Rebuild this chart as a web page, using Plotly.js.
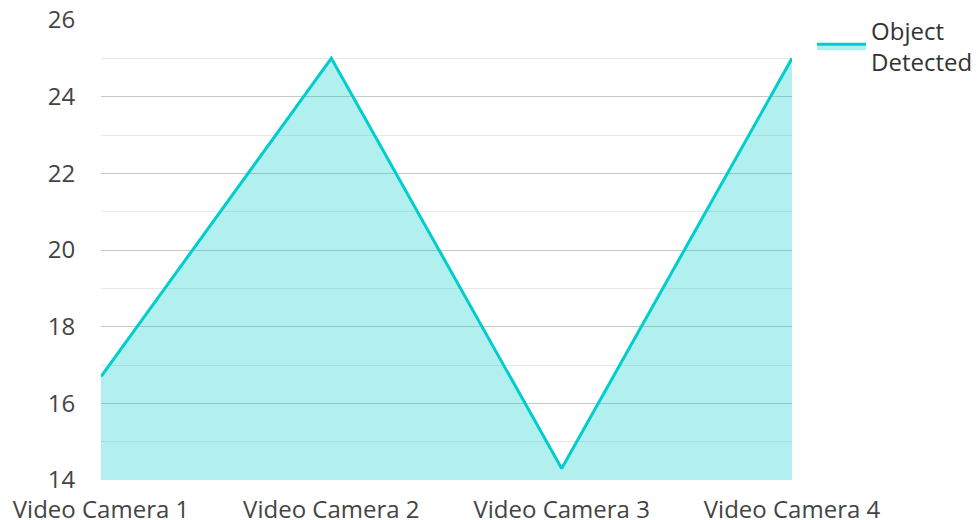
<!DOCTYPE html>
<html>
<head>
<meta charset="utf-8">
<script src="https://cdn.plot.ly/plotly-3.0.1.min.js"></script>
<style>html,body{margin:0;padding:0;background:#fff;}#chart{width:980px;height:520px;}</style>
</head>
<body>
<div id="chart"></div>
<script>
var categories = ["Video Camera 1", "Video Camera 2", "Video Camera 3", "Video Camera 4"];
var objectDetected = [16.7, 25, 14.3, 25];
var seriesName = "Object<br>Detected";

var trace = {
  x: categories,
  y: objectDetected,
  type: "scatter",
  mode: "lines",
  name: seriesName,
  fill: "tozeroy",
  fillcolor: "rgba(0,204,204,0.3)",
  line: {color: "rgb(0,206,204)", width: 3},
  showlegend: true
};

var layout = {
  width: 980,
  height: 520,
  margin: {l: 101, r: 188, t: 20, b: 40, autoexpand: false},
  paper_bgcolor: "#fff",
  plot_bgcolor: "#fff",
  font: {family: "Open Sans, sans-serif", size: 24, color: "#444"},
  showlegend: true,
  xaxis: {
    type: "category",
    range: [0, 3],
    showgrid: false,
    zeroline: false,
    showline: false,
    automargin: false,
    ticks: "outside",
    ticklen: 8,
    tickcolor: "rgba(0,0,0,0)",
    tickfont: {size: 24, color: "#444"}
  },
  yaxis: {
    range: [14, 26],
    dtick: 2,
    tick0: 14,
    showgrid: true,
    gridcolor: "#c8c8c8",
    gridwidth: 1,
    zeroline: false,
    showline: false,
    automargin: false,
    ticks: "outside",
    ticklen: 20,
    tickcolor: "rgba(0,0,0,0)",
    tickfont: {size: 24, color: "#444"},
    minor: {dtick: 1, tick0: 14, showgrid: true, gridcolor: "#e8e8e8", gridwidth: 1}
  },
  legend: {
    x: 1.029,
    y: 1.025,
    xanchor: "left",
    yanchor: "top",
    font: {size: 24, color: "#333"},
    bgcolor: "rgba(0,0,0,0)",
    itemwidth: 49
  }
};

Plotly.newPlot("chart", [trace], layout, {displayModeBar: false, staticPlot: true});
</script>
</body>
</html>
